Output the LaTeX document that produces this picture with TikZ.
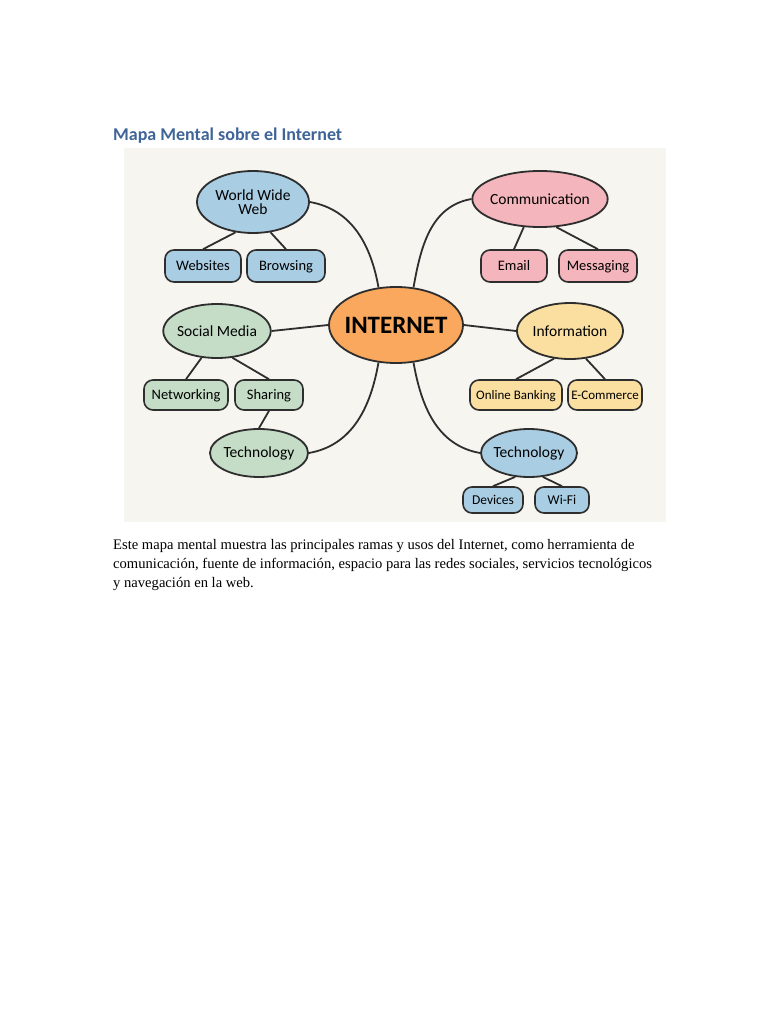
\documentclass[tikz,border=0pt]{standalone}
\usepackage{fontspec}
\setmainfont{Liberation Serif}
\newfontfamily\nodefont{Carlito}
\usetikzlibrary{shapes.geometric}
\definecolor{panel}{HTML}{F7F5F0}
\definecolor{titleblue}{HTML}{3F6497}
\definecolor{cblue}{HTML}{A9CDE3}
\definecolor{cgreen}{HTML}{C5DDC6}
\definecolor{cpink}{HTML}{F4B6BC}
\definecolor{cyel}{HTML}{FADFA0}
\definecolor{corange}{HTML}{F9A85E}
\definecolor{line}{HTML}{2E2E2E}
\tikzset{
  x=1pt,y=-1pt,
  ell/.style={ellipse,draw=line,line width=1.8pt,inner sep=-2pt,font=\nodefont\fontsize{15.5}{16}\selectfont,align=center},
  box/.style={rounded corners=9pt,draw=line,line width=1.6pt,inner sep=0pt,text height=9.5pt,text depth=0pt,font=\nodefont\fontsize{14.5}{15}\selectfont},
  sbox/.style={box,font=\nodefont\fontsize{13.5}{14}\selectfont},
  conn/.style={draw=line,line width=1.8pt}
}
\begin{document}
\begin{tikzpicture}
\useasboundingbox[fill=white] (0,0) rectangle (768,1024);
\fill[panel] (124,148) rectangle (666,522);
\node[anchor=west,text=titleblue,inner sep=0pt,font=\nodefont\bfseries\fontsize{18}{20}\selectfont] (title) at (113,136) {Mapa Mental sobre el Internet};

\node[ell,fill=corange,minimum width=134,minimum height=76,inner sep=-6pt,font=\nodefont\bfseries\fontsize{25}{27}\selectfont] (inet) at (396,325) {INTERNET};
\node[ell,fill=cblue,minimum width=112,minimum height=62] (www) at (253,202) {World Wide\\[-2pt]Web};
\node[box,fill=cblue,minimum width=76,minimum height=32] (web) at (203,266) {Websites};
\node[box,fill=cblue,minimum width=78,minimum height=32] (brow) at (286,266) {Browsing};
\node[ell,fill=cgreen,minimum width=104,minimum height=54] (soc) at (217,331) {Social Media};
\node[box,fill=cgreen,minimum width=84,minimum height=30] (net) at (186,395) {Networking};
\node[box,fill=cgreen,minimum width=68,minimum height=30] (shar) at (269,395) {Sharing};
\node[ell,fill=cgreen,minimum width=98,minimum height=48] (techl) at (259,453) {Technology};
\node[ell,fill=cpink,minimum width=110,minimum height=56] (comm) at (540,199) {Communication};
\node[box,fill=cpink,minimum width=66,minimum height=32] (mail) at (514,266) {Email};
\node[box,fill=cpink,minimum width=78,minimum height=32] (msg) at (598,266) {Messaging};
\node[ell,fill=cyel,minimum width=106,minimum height=56] (info) at (570,331) {Information};
\node[sbox,fill=cyel,minimum width=92,minimum height=30,font=\nodefont\fontsize{13}{14}\selectfont] (bank) at (516,395) {Online Banking};
\node[sbox,fill=cyel,minimum width=74,minimum height=30,font=\nodefont\fontsize{13}{14}\selectfont] (ecom) at (605,395) {E-Commerce};
\node[ell,fill=cblue,minimum width=96,minimum height=48] (techr) at (529,453) {Technology};
\node[sbox,fill=cblue,minimum width=60,minimum height=26] (dev) at (493,500) {Devices};
\node[sbox,fill=cblue,minimum width=54,minimum height=26] (wifi) at (562,500) {Wi-Fi};

\draw[conn] (inet.115) to[out=100,in=-10] (www.east);
\draw[conn] (inet.west) -- (soc.east);
\draw[conn] (inet.245) to[out=-100,in=10] (techl.east);
\draw[conn] (inet.65) to[out=80,in=190] (comm.west);
\draw[conn] (inet.east) -- (info.west);
\draw[conn] (inet.295) to[out=-80,in=170] (techr.west);
\draw[conn] (www.240) -- (web.north);
\draw[conn] (www.300) -- (brow.north);
\draw[conn] (soc.240) -- (net.north);
\draw[conn] (soc.300) -- (shar.north);
\draw[conn] (shar.south) -- (techl.north);
\draw[conn] (comm.240) -- (mail.north);
\draw[conn] (comm.300) -- (msg.north);
\draw[conn] (info.240) -- (bank.north);
\draw[conn] (info.300) -- (ecom.north);
\draw[conn] (techr.240) -- (dev.north);
\draw[conn] (techr.300) -- (wifi.north);

\node[anchor=north west,align=left,font=\fontsize{14.6}{19.3}\selectfont,inner sep=0pt] (body) at (113,539) {Este mapa mental muestra las principales ramas y usos del Internet, como herramienta de\\comunicación, fuente de información, espacio para las redes sociales, servicios tecnológicos\\y navegación en la web.};
\end{tikzpicture}
\end{document}
